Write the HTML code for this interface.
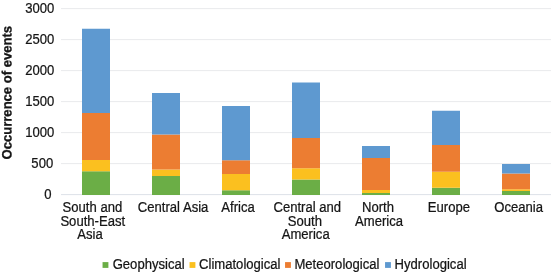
<!DOCTYPE html>
<html><head><meta charset="utf-8"><title>Chart</title>
<style>
html,body{margin:0;padding:0;background:#fff;}
body{width:552px;height:273px;overflow:hidden;}
svg{display:block;}
text{font-family:"Liberation Sans",sans-serif;font-size:13.1px;fill:#151515;stroke:#151515;stroke-width:0.22px;}
.b{font-weight:bold;stroke-width:0.3px;}
</style></head><body>
<svg width="552" height="273" viewBox="0 0 552 273">
<rect width="552" height="273" fill="#fff"/>
<line x1="61" x2="551" y1="194.6" y2="194.6" stroke="#D3D9E1" stroke-width="0.8"/>
<line x1="61" x2="551" y1="163.6" y2="163.6" stroke="#E2E4E7" stroke-width="0.8"/>
<line x1="61" x2="551" y1="132.6" y2="132.6" stroke="#E2E4E7" stroke-width="0.8"/>
<line x1="61" x2="551" y1="101.6" y2="101.6" stroke="#E2E4E7" stroke-width="0.8"/>
<line x1="61" x2="551" y1="70.6" y2="70.6" stroke="#E2E4E7" stroke-width="0.8"/>
<line x1="61" x2="551" y1="39.6" y2="39.6" stroke="#E2E4E7" stroke-width="0.8"/>
<line x1="61" x2="551" y1="8.6" y2="8.6" stroke="#E2E4E7" stroke-width="0.8"/>
<rect x="82" y="171.25" width="28" height="23.75" fill="#6BAE46"/>
<rect x="82" y="160" width="28" height="11.25" fill="#FBC01F"/>
<rect x="82" y="113" width="28" height="47.00" fill="#EC7D32"/>
<rect x="82" y="28.75" width="28" height="84.25" fill="#5E99D0"/>
<rect x="152" y="176" width="28" height="19.00" fill="#6BAE46"/>
<rect x="152" y="169.5" width="28" height="6.50" fill="#FBC01F"/>
<rect x="152" y="134.5" width="28" height="35.00" fill="#EC7D32"/>
<rect x="152" y="93" width="28" height="41.50" fill="#5E99D0"/>
<rect x="222" y="190.25" width="28" height="4.75" fill="#6BAE46"/>
<rect x="222" y="174" width="28" height="16.25" fill="#FBC01F"/>
<rect x="222" y="160.25" width="28" height="13.75" fill="#EC7D32"/>
<rect x="222" y="106" width="28" height="54.25" fill="#5E99D0"/>
<rect x="292" y="179.5" width="28" height="15.50" fill="#6BAE46"/>
<rect x="292" y="168.25" width="28" height="11.25" fill="#FBC01F"/>
<rect x="292" y="138" width="28" height="30.25" fill="#EC7D32"/>
<rect x="292" y="82.5" width="28" height="55.50" fill="#5E99D0"/>
<rect x="362" y="193" width="28" height="2.00" fill="#6BAE46"/>
<rect x="362" y="190" width="28" height="3.00" fill="#FBC01F"/>
<rect x="362" y="158" width="28" height="32.00" fill="#EC7D32"/>
<rect x="362" y="146" width="28" height="12.00" fill="#5E99D0"/>
<rect x="432" y="187.75" width="28" height="7.25" fill="#6BAE46"/>
<rect x="432" y="171.75" width="28" height="16.00" fill="#FBC01F"/>
<rect x="432" y="145" width="28" height="26.75" fill="#EC7D32"/>
<rect x="432" y="110.75" width="28" height="34.25" fill="#5E99D0"/>
<rect x="502" y="191" width="28" height="4.00" fill="#6BAE46"/>
<rect x="502" y="189.25" width="28" height="1.75" fill="#FBC01F"/>
<rect x="502" y="173.5" width="28" height="15.75" fill="#EC7D32"/>
<rect x="502" y="164" width="28" height="9.50" fill="#5E99D0"/>
<text transform="translate(51.6,198.85) scale(1,1.07)" text-anchor="end">0</text>
<text transform="translate(53.2,167.85) scale(1,1.07)" text-anchor="end">500</text>
<text transform="translate(54.300000000000004,136.85) scale(1,1.07)" text-anchor="end">1000</text>
<text transform="translate(54.300000000000004,105.85) scale(1,1.07)" text-anchor="end">1500</text>
<text transform="translate(54.300000000000004,74.85) scale(1,1.07)" text-anchor="end">2000</text>
<text transform="translate(54.300000000000004,43.85) scale(1,1.07)" text-anchor="end">2500</text>
<text transform="translate(54.300000000000004,12.85) scale(1,1.07)" text-anchor="end">3000</text>
<text class="b" transform="translate(11.5,92.7) rotate(-89.9) scale(0.997,1.04)" text-anchor="middle">Occurrence of events</text>
<text transform="translate(92.4,212.30) scale(1,1.07)" text-anchor="middle">South and</text>
<text transform="translate(92.75,225.50) scale(1,1.07)" text-anchor="middle">South-East</text>
<text transform="translate(90.0,238.70) scale(1,1.07)" text-anchor="middle">Asia</text>
<text transform="translate(173.1,212.30) scale(1,1.07)" text-anchor="middle">Central Asia</text>
<text transform="translate(238,212.30) scale(1,1.07)" text-anchor="middle">Africa</text>
<text transform="translate(307.3,212.30) scale(1,1.07)" text-anchor="middle">Central and</text>
<text transform="translate(304.9,225.50) scale(1,1.07)" text-anchor="middle">South</text>
<text transform="translate(305.7,238.70) scale(1,1.07)" text-anchor="middle">America</text>
<text transform="translate(378.0,212.30) scale(1,1.07)" text-anchor="middle">North</text>
<text transform="translate(379.0,225.50) scale(1,1.07)" text-anchor="middle">America</text>
<text transform="translate(448.9,212.30) scale(1,1.07)" text-anchor="middle">Europe</text>
<text transform="translate(518.6,212.30) scale(1,1.07)" text-anchor="middle">Oceania</text>
<rect x="102.55" y="262.1" width="5.85" height="5.8" fill="#6BAE46"/>
<text transform="translate(112.65,268.75) scale(1,1.07)">Geophysical</text>
<rect x="189.55" y="262.1" width="5.85" height="5.8" fill="#FBC01F"/>
<text transform="translate(199.05,268.75) scale(1,1.07)">Climatological</text>
<rect x="285.05" y="262.1" width="5.85" height="5.8" fill="#EC7D32"/>
<text transform="translate(294.40,268.75) scale(1,1.07)">Meteorological</text>
<rect x="385.05" y="262.1" width="5.85" height="5.8" fill="#5E99D0"/>
<text transform="translate(394.60,268.75) scale(1,1.07)">Hydrological</text>
</svg></body></html>
